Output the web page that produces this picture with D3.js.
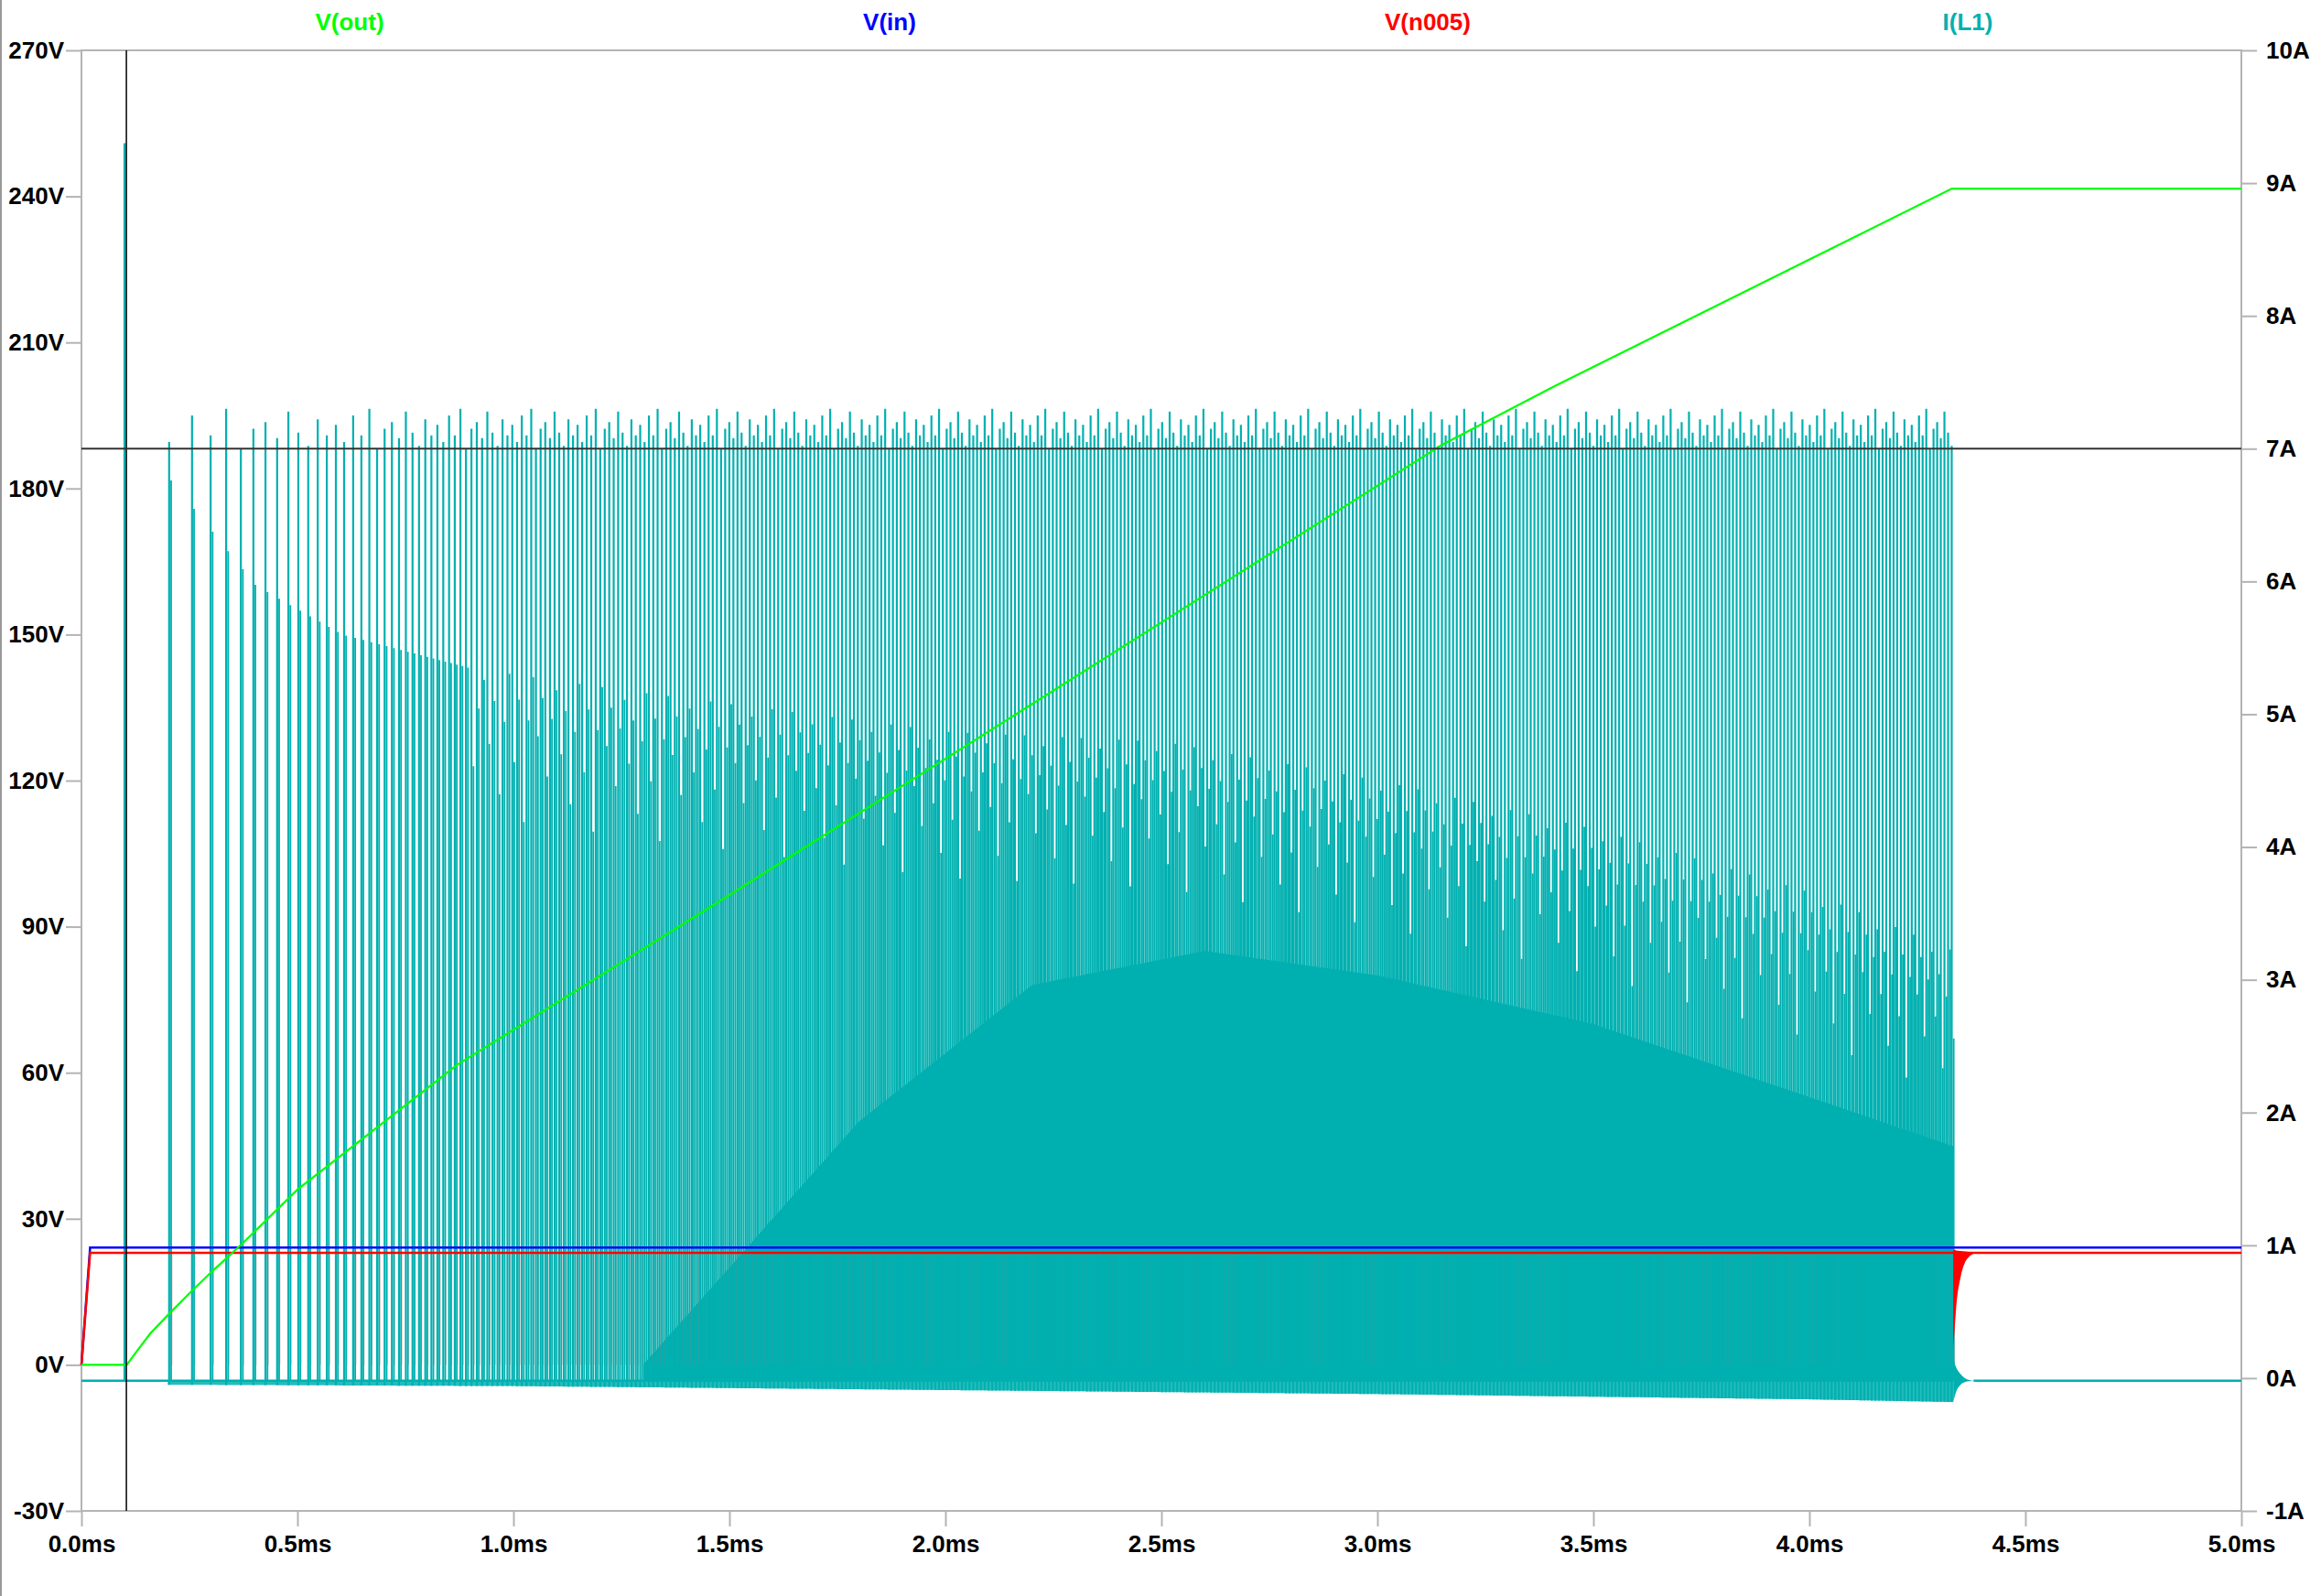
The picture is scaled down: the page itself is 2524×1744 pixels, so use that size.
<!DOCTYPE html>
<html><head><meta charset="utf-8">
<script src="https://cdn.jsdelivr.net/npm/d3@7"></script>
<style>body{margin:0;background:#fff}svg{display:block}text{font-family:"Liberation Sans",Arial,sans-serif;font-weight:bold}</style>
</head><body>
<script>
// ---- data ----
const traceNames = ["V(out)","V(in)","V(n005)","I(L1)"];
const traceColors = ["#00ff00","#0000ff","#ff0000","#00b0b0"];
const leftTicks = [-30,0,30,60,90,120,150,180,210,240,270];
const rightTicks = [-1,0,1,2,3,4,5,6,7,8,9,10];
const timeTicks = [0,0.5,1,1.5,2,2.5,3,3.5,4,4.5,5];
// V(out)
const voutT = [0,0.105,0.13,0.16,0.2,0.25,0.3,0.37,0.5,0.871,1.5,2.0,2.5,3.15,3.41,4.33,5.0];
const voutV = [0,0,3,6.5,10.2,14.7,19,24.7,36,61.7,96.5,124.5,152.5,189,201,241.6,241.6];
// V(in)
const vinT = [0,0.02,5];
const vinV = [0,24.1,24.1];
// V(n005)
const vnT = [0,0.02,4.333,4.333,5];
const vnV = [0,23,23,23,23];
const vnRingT = [4.333,4.336,4.34,4.35,4.36,4.37,4.38,4.4];
const vnRingLo = [3.6,7,12,18,21,22.2,22.8,23];
const vnRingHi = [23.6,23.6,23.5,23.4,23.3,23.2,23.1,23];
// I(L1)
const firstSpikeT = 0.1, firstSpikeA = 9.3;
const earlyPulseT = [0.203,0.256,0.299,0.335,0.369,0.398,0.426,0.453,0.479,0.502,0.525,0.547,0.568,0.589,0.608,0.629];
const periodKnotT = [0.63,0.8,1.0,1.5,2.0,3.0,4.33];
const periodKnotMs = [0.019,0.014,0.011,0.0095,0.0088,0.0086,0.0084];
const peakCycleA = [7.05,7.25,7.1,7.3,7.0,7.15,7.2,7.08,7.28,7.12,7.02,7.22,7.1,7.18];
const secT = [0.2,0.4,0.6,0.9,1.3,2.0,2.5,3.0,3.5,4.0,4.33];
const secV = [182,160,150,143,138,130,128,120,110,97,85];
const secJitterV = [0,-12,-4,-20,-8,-2,-15,-6,-25,-10,0,-18,-5,-30,-9];
const solidT = [1.3,1.8,2.2,2.6,3.0,3.5,4.0,4.33];
const solidV = [0,50,78,85,80,70,55,45];
const minT = [0.2,1,2,3,4,4.33];
const minA = [-0.05,-0.06,-0.09,-0.12,-0.16,-0.18];
const endT = 4.333;
const baseA = -0.02;
const ringT = [4.333,4.34,4.35,4.36,4.38];
const ringHi = [0.15,0.08,0.03,0.0,-0.02];
const ringLo = [-0.18,-0.1,-0.05,-0.03,-0.02];
const cursorT = 0.104, cursorA = 7;

// ---- chart ----
const W=2524,H=1744,L=89,R=2449,T=55,B=1651;
const x=d3.scaleLinear([0,5],[L,R]);
const yV=d3.scaleLinear([-30,270],[B,T]);
const yA=d3.scaleLinear([-1,10],[B,T]);
const interp=(ts,vs)=>d3.scaleLinear(ts,vs).clamp(true);
const svg=d3.select("body").append("svg").attr("width",W).attr("height",H);
svg.append("line").attr("x1",1).attr("x2",1).attr("y1",0).attr("y2",H).attr("stroke","#999").attr("stroke-width",2);
const grey="#b4b4b4";
svg.append("rect").attr("x",L).attr("y",T).attr("width",R-L).attr("height",B-T).attr("fill","none").attr("stroke",grey).attr("stroke-width",2);
const axL=svg.append("g").attr("transform",`translate(${L},0)`).call(d3.axisLeft(yV).tickValues(leftTicks).tickSize(17).tickPadding(2).tickFormat(d=>d+"V"));
const axR=svg.append("g").attr("transform",`translate(${R},0)`).call(d3.axisRight(yA).tickValues(rightTicks).tickSize(17).tickPadding(10).tickFormat(d=>d+"A"));
const axB=svg.append("g").attr("transform",`translate(0,${B})`).call(d3.axisBottom(x).tickValues(timeTicks).tickSize(17).tickPadding(10).tickFormat(d=>d3.format(".1f")(d)+"ms"));
[axL,axR,axB].forEach(a=>{a.select(".domain").remove();a.selectAll("line").attr("stroke",grey).attr("stroke-width",2);
 a.selectAll("text").attr("font-size",26).attr("fill","#000").attr("font-family","Liberation Sans").attr("font-weight","bold");});

const plot=svg.append("g");
const iCol=traceColors[3];
const period=interp(periodKnotT,periodKnotMs);
const sec=interp(secT,secV), solid=interp(solidT,solidV), mn=interp(minT,minA);
let pulses=earlyPulseT.slice();
let t=earlyPulseT[earlyPulseT.length-1];
while(true){t+=period(t); if(t>endT) break; pulses.push(t);}
plot.append("path").attr("fill",iCol).attr("opacity",0.85)
 .attr("d",d3.area().x(d=>x(d)).y0(yA(baseA)).y1(d=>yA(mn(d)))(d3.range(0.2,endT,0.01).concat([endT])));
plot.append("path").attr("fill",iCol)
 .attr("d",d3.area().x(d=>x(d)).y0(yA(baseA)).y1(d=>yV(solid(d)))(d3.range(1.3,endT,0.01).concat([endT])));
plot.selectAll("line.rd").data(pulses).join("line").attr("x1",d=>x(d)+3).attr("x2",d=>x(d)+3)
 .attr("y1",yV(23)).attr("y2",yV(0)).attr("stroke","#e06060").attr("stroke-width",1).attr("opacity",0.5);
plot.selectAll("line.sec").data(pulses).join("line").attr("x1",d=>x(d)+2.2).attr("x2",d=>x(d)+2.2)
 .attr("y1",yA(baseA)).attr("y2",(d,i)=>yV(sec(d)+(d>0.9?secJitterV[i%secJitterV.length]:0))).attr("stroke",iCol).attr("stroke-width",1.8);
plot.selectAll("line.pk").data(pulses).join("line").attr("x1",d=>x(d)).attr("x2",d=>x(d))
 .attr("y1",d=>yA(mn(d))).attr("y2",(d,i)=>yA(peakCycleA[i%peakCycleA.length])).attr("stroke",iCol).attr("stroke-width",2.2);
plot.append("line").attr("x1",x(firstSpikeT)).attr("x2",x(firstSpikeT)).attr("y1",yA(baseA)).attr("y2",yA(firstSpikeA)).attr("stroke",iCol).attr("stroke-width",2.5);
plot.append("path").attr("fill","none").attr("stroke",iCol).attr("stroke-width",2.5)
 .attr("d",d3.line()([[x(0),yA(baseA)],[x(endT),yA(baseA)]]));
plot.append("path").attr("fill","none").attr("stroke",iCol).attr("stroke-width",2.5)
 .attr("d",d3.line()([[x(4.38),yA(baseA)],[x(5),yA(baseA)]]));
const ringPts=ringT.map((d,i)=>({t:d,hi:ringHi[i],lo:ringLo[i]}));
plot.append("path").attr("fill",iCol).attr("d",d3.area().curve(d3.curveMonotoneX).x(d=>x(d.t)).y0(d=>yA(d.lo)).y1(d=>yA(d.hi))(ringPts));
const rr=vnRingT.map((d,i)=>({t:d,hi:vnRingHi[i],lo:vnRingLo[i]}));
plot.append("path").attr("fill",traceColors[2]).attr("d",d3.area().curve(d3.curveMonotoneX).x(d=>x(d.t)).y0(d=>yV(d.lo)).y1(d=>yV(d.hi))(rr));
plot.append("path").attr("fill","none").attr("stroke",traceColors[1]).attr("stroke-width",2.5)
 .attr("d",d3.line().x((d,i)=>x(vinT[i])).y(d=>yV(d))(vinV));
plot.append("path").attr("fill","none").attr("stroke",traceColors[2]).attr("stroke-width",2.5)
 .attr("d",d3.line().x((d,i)=>x(vnT[i])).y(d=>yV(d))(vnV));
plot.append("path").attr("fill","none").attr("stroke",traceColors[0]).attr("stroke-width",2.2)
 .attr("d",d3.line().x((d,i)=>x(voutT[i])).y(d=>yV(d))(voutV));
plot.append("line").attr("x1",x(cursorT)).attr("x2",x(cursorT)).attr("y1",T).attr("y2",B).attr("stroke","#000").attr("stroke-width",1.5);
plot.append("line").attr("x1",L).attr("x2",R).attr("y1",yA(cursorA)).attr("y2",yA(cursorA)).attr("stroke","#333").attr("stroke-width",2);
const labelX=[382,972,1560,2150];
svg.selectAll("text.tl").data(traceNames).join("text").attr("class","tl").attr("x",(d,i)=>labelX[i]).attr("y",33)
 .attr("text-anchor","middle").attr("font-size",26).attr("fill",(d,i)=>traceColors[i]).text(d=>d);
</script>
</body></html>
